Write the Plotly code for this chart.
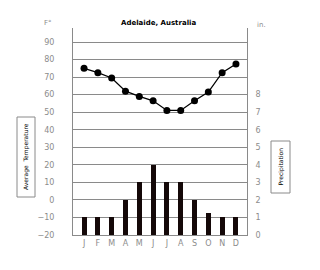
import plotly.graph_objects as go

months = ["J", "F", "M", "A", "M", "J", "J", "A", "S", "O", "N", "D"]
temp_f = [75, 72.5, 69.5, 62, 59, 56.5, 51, 51, 56.5, 61.5, 72.5, 77.5]
precip_in = [1, 1, 1, 2, 3, 4, 3, 3, 2, 1.25, 1, 1]
temp_ticks = [-20, -10, 0, 10, 20, 30, 40, 50, 60, 70, 80, 90]
precip_ticks = [0, 1, 2, 3, 4, 5, 6, 7, 8]

x = list(range(len(months)))
grid = "#8a8a8a"
lab = "#8c8c8c"
font = "DejaVu Sans"


def px(v):
    return (v - 73) / 174


def py(v):
    return (235 - v) / 207


fig = go.Figure()
fig.add_trace(go.Bar(x=x, y=precip_in, yaxis="y2", width=0.36,
                     marker=dict(color="#140808", line=dict(width=0)),
                     showlegend=False))
fig.add_trace(go.Scatter(x=x, y=temp_f, mode="lines+markers",
                         line=dict(color="black", width=1.3),
                         marker=dict(color="black", size=7),
                         showlegend=False))

fig.update_layout(
    width=320, height=270,
    margin=dict(l=73, r=73, t=28, b=35),
    paper_bgcolor="white", plot_bgcolor="white",
    bargap=0,
    xaxis=dict(range=[-0.8, 11.8], tickvals=x, ticktext=months,
               showgrid=False, zeroline=False, showline=True,
               linecolor=grid, linewidth=1, ticks="",
               tickfont=dict(family=font, size=8, color=lab)),
    yaxis=dict(range=[-20, 98], tickvals=temp_ticks, showgrid=True,
               gridcolor=grid, gridwidth=1, zeroline=False,
               showline=True, linecolor=grid, linewidth=1, ticks="",
               ticklabelstandoff=16,
               tickfont=dict(family=font, size=8, color=lab)),
    yaxis2=dict(range=[0, 11.8], tickvals=precip_ticks, overlaying="y",
                side="right", showgrid=False, zeroline=False,
                showline=True, linecolor=grid, linewidth=1, ticks="",
                ticklabelstandoff=6,
                tickfont=dict(family=font, size=8, color=lab)),
)

fig.add_annotation(text="<b>Adelaide, Australia</b>", x=px(158), y=py(23),
                   xref="paper", yref="paper", showarrow=False,
                   xanchor="center", yanchor="middle",
                   font=dict(family=font, size=7, color="black"))
fig.add_annotation(text="F°", x=px(48), y=py(23),
                   xref="paper", yref="paper", showarrow=False,
                   xanchor="center", yanchor="middle",
                   font=dict(family=font, size=7, color=lab))
fig.add_annotation(text="in.", x=px(261), y=py(25),
                   xref="paper", yref="paper", showarrow=False,
                   xanchor="center", yanchor="middle",
                   font=dict(family=font, size=7, color=lab))

# boxes with rotated labels
fig.add_shape(type="rect", xref="paper", yref="paper",
              x0=px(17), x1=px(35), y0=py(197), y1=py(117),
              line=dict(color=grid, width=1), fillcolor="white")
fig.add_annotation(text="Average  Temperature", textangle=-90,
                   x=px(26), y=py(157), xanchor="center", yanchor="middle",
                   xref="paper", yref="paper", showarrow=False,
                   font=dict(family=font, size=6, color="black"))
fig.add_shape(type="rect", xref="paper", yref="paper",
              x0=px(271), x1=px(290), y0=py(193), y1=py(141),
              line=dict(color=grid, width=1), fillcolor="white")
fig.add_annotation(text="Precipitation", textangle=-90,
                   x=px(280.5), y=py(167), xanchor="center", yanchor="middle",
                   xref="paper", yref="paper", showarrow=False,
                   font=dict(family=font, size=6, color="black"))

fig.write_html("out.html")
